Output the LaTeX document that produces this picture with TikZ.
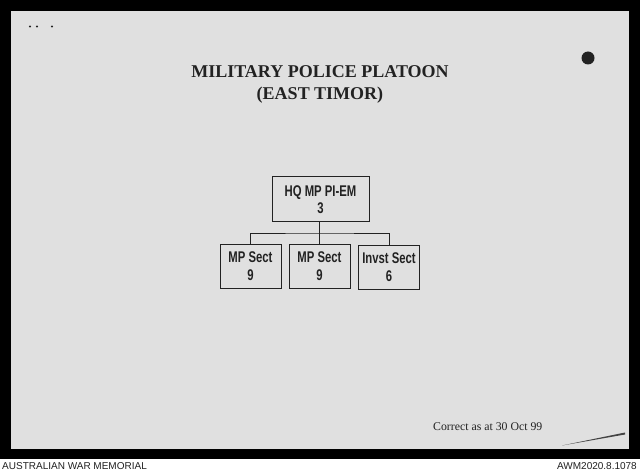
\documentclass[tikz,border=0pt]{standalone}
\usepackage{fontspec}
\setmainfont{Liberation Serif}
\newfontfamily\boxfont[FakeStretch=0.73]{Liberation Sans}
\newfontfamily\capfont{Liberation Sans}

\definecolor{paper}{HTML}{E0E0E0}
\definecolor{ink}{HTML}{222222}

\tikzset{
    unitbox/.style={draw=ink, line width=1pt, inner sep=0pt, align=center,
        font=\boxfont\bfseries\fontsize{15.5}{17}\selectfont, text=ink},
    hqbox/.style={unitbox, minimum width=97pt, minimum height=45pt},
    sectbox/.style={unitbox, minimum width=61pt, minimum height=44pt,
        font=\boxfont\bfseries\fontsize{15.5}{18}\selectfont},
    link/.style={draw=ink, line width=0.9pt}
}

\begin{document}
\begin{tikzpicture}[x=1pt, y=-1pt]

    % Fix the size of the page to the scan
    \useasboundingbox (0,0) rectangle (640,473);

    % Black mount, white caption strip and the sheet of paper
    \fill[black] (0,0) rectangle (640,459);
    \fill[white] (0,459) rectangle (640,473);
    \fill[paper] (11,11) rectangle (629,449);

    % Marks on the sheet
    \fill[ink] (588,58) circle (6.5);
    \foreach \x in {30,37,52} \fill[ink] (\x,26.5) circle (1.1);
    \fill[ink!85] (562,445.5) -- (625,432.5) -- (625,434.5) -- cycle;

    % Title
    \node[font=\bfseries\fontsize{18}{22}\selectfont, text=ink, align=center] (title) at (320,84)
        {MILITARY POLICE PLATOON\\(EAST TIMOR)};

    % Headquarters and the three sections
    \node[hqbox] (hq) at (320.5,199.5) {HQ MP PI-EM\\3};
    \node[sectbox] (sectA) at (250.5,266.5) {MP Sect\\9};
    \node[sectbox] (sectB) at (319.5,266.5) {MP Sect\\9};
    \node[sectbox] (invst) at (389,267.5) {Invst Sect\\6};

    % Connectors from the headquarters down to the sections
    \coordinate (bar) at (sectB.north |- 0,233);
    \draw[link] (hq.south -| bar) -- (sectB.north);
    \draw[link] (sectA.north) |- (bar) -| (invst.north);

    % Date of the chart
    \node[anchor=west, font=\fontsize{11.8}{14}\selectfont, text=ink, inner sep=0pt] (date) at (433,427)
        {Correct as at 30 Oct 99};

    % Caption strip
    \node[anchor=west, font=\capfont\fontsize{10}{12}\selectfont, text=ink, inner sep=0pt] (awm) at (2,466.5)
        {AUSTRALIAN WAR MEMORIAL};
    \node[anchor=east, font=\capfont\fontsize{10}{12}\selectfont, text=ink, inner sep=0pt] (ref) at (637,466.5)
        {AWM2020.8.1078};

\end{tikzpicture}
\end{document}
